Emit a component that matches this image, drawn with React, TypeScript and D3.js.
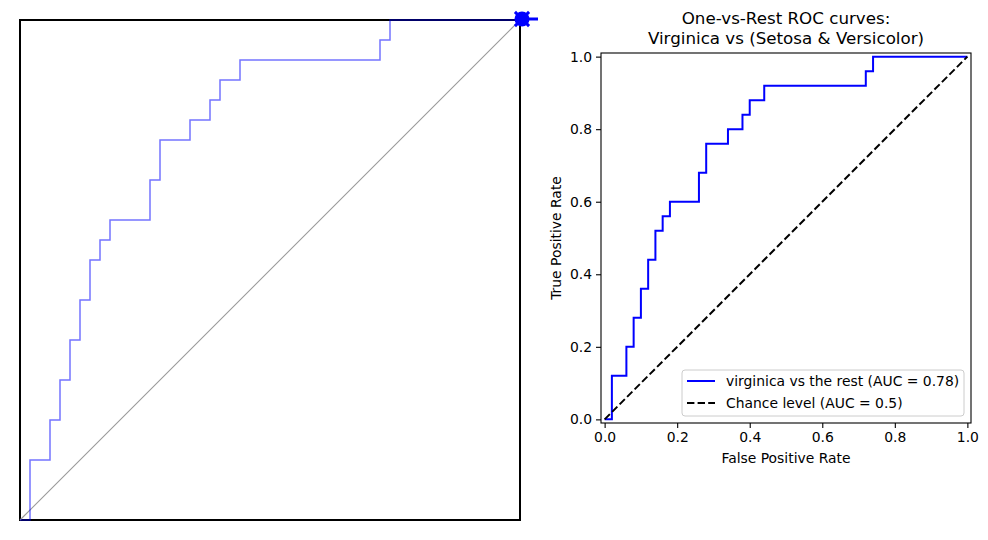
import * as d3 from "d3";
import React, { useEffect, useRef } from "react";

// ROC corner points (step after): false positive rate / true positive rate
const fpr = [0, 0.02, 0.06, 0.08, 0.10, 0.12, 0.14, 0.16, 0.18, 0.26, 0.28, 0.34, 0.38, 0.40, 0.44, 0.72, 0.74, 1.0];
const tpr = [0, 0.12, 0.20, 0.28, 0.36, 0.44, 0.52, 0.56, 0.60, 0.68, 0.76, 0.80, 0.84, 0.88, 0.92, 0.96, 1.0, 1.0];
const chance = [0, 1];
const ticks = [0, 0.2, 0.4, 0.6, 0.8, 1.0];
const titleLines = ["One-vs-Rest ROC curves:", "Virginica vs (Setosa & Versicolor)"];
const legendLabels = ["virginica vs the rest (AUC = 0.78)", "Chance level (AUC = 0.5)"];

const FONT = "DejaVu Sans, sans-serif";

export default function App() {
  const svgRef = useRef<SVGSVGElement | null>(null);

  useEffect(() => {
    const svg = d3.select(svgRef.current);
    svg.selectAll("*").remove();
    const pts = fpr.map((f, i) => [f, tpr[i]] as [number, number]);

    // ---- left panel: bare box, no ticks
    const lx = d3.scaleLinear().domain([0, 1]).range([20, 520]);
    const ly = d3.scaleLinear().domain([0, 1]).range([520, 20]);
    const L = svg.append("g");
    L.append("rect").attr("x", 20).attr("y", 20).attr("width", 500).attr("height", 500)
      .attr("fill", "none").attr("stroke", "#000").attr("stroke-width", 2);
    L.append("line")
      .attr("x1", lx(chance[0])).attr("y1", ly(chance[0]))
      .attr("x2", lx(chance[1])).attr("y2", ly(chance[1]))
      .attr("stroke", "#999").attr("stroke-width", 1.1);
    const lline = d3.line<[number, number]>().x(d => lx(d[0])).y(d => ly(d[1])).curve(d3.curveStepAfter);
    L.append("path").attr("d", lline(pts)!).attr("fill", "none")
      .attr("stroke", "blue").attr("stroke-opacity", 0.55).attr("stroke-width", 1.5);
    // marker at (1,1)
    const mx = lx(1) + 2, my = ly(1) - 1;
    const stubs = [45, 135, 225, 315, 0];
    stubs.forEach(a => {
      const r = (a * Math.PI) / 180;
      const len = a === 0 ? 16 : 10;
      L.append("line").attr("x1", mx).attr("y1", my)
        .attr("x2", mx + Math.cos(r) * len).attr("y2", my - Math.sin(r) * len)
        .attr("stroke", "blue").attr("stroke-width", 3);
    });
    L.append("circle").attr("cx", mx).attr("cy", my).attr("r", 7.5).attr("fill", "blue");

    // ---- right panel
    const x = d3.scaleLinear().domain([-0.01, 1.01]).range([601, 971]);
    const y = d3.scaleLinear().domain([-0.01, 1.01]).range([423, 53]);
    const R = svg.append("g");
    const line = d3.line<[number, number]>().x(d => x(d[0])).y(d => y(d[1])).curve(d3.curveStepAfter);
    R.append("path").attr("d", line(pts)!).attr("fill", "none")
      .attr("stroke", "blue").attr("stroke-width", 2);
    R.append("line")
      .attr("x1", x(chance[0])).attr("y1", y(chance[0]))
      .attr("x2", x(chance[1])).attr("y2", y(chance[1]))
      .attr("stroke", "#000").attr("stroke-width", 2).attr("stroke-dasharray", "7.4,3.2");
    R.append("rect").attr("x", 601).attr("y", 53).attr("width", 370).attr("height", 370)
      .attr("fill", "none").attr("stroke", "#000").attr("stroke-width", 1.1);

    const xAxis = d3.axisBottom(x).tickValues(ticks).tickFormat(d3.format(".1f")).tickSize(5).tickPadding(4);
    const yAxis = d3.axisLeft(y).tickValues(ticks).tickFormat(d3.format(".1f")).tickSize(5).tickPadding(4);
    const gx = R.append("g").attr("transform", "translate(0,423)").call(xAxis);
    const gy = R.append("g").attr("transform", "translate(601,0)").call(yAxis);
    [gx, gy].forEach(g => {
      g.select(".domain").remove();
      g.selectAll(".tick line").attr("stroke", "#000").attr("stroke-width", 1.1);
      g.selectAll(".tick text").attr("fill", "#000").attr("font-size", 13.9).attr("font-family", FONT);
    });

    R.append("text").attr("x", 786).attr("y", 463).attr("text-anchor", "middle")
      .attr("font-family", FONT).attr("font-size", 13.9).text("False Positive Rate");
    R.append("text").attr("transform", "translate(561,238) rotate(-90)").attr("text-anchor", "middle")
      .attr("font-family", FONT).attr("font-size", 13.9).text("True Positive Rate");

    titleLines.forEach((t, i) => {
      R.append("text").attr("x", 786).attr("y", 24 + i * 20).attr("text-anchor", "middle")
        .attr("font-family", FONT).attr("font-size", 16.7).text(t);
    });

    // legend
    const lg = R.append("g");
    lg.append("rect").attr("x", 682).attr("y", 370).attr("width", 282).attr("height", 46)
      .attr("rx", 3).attr("fill", "#fff").attr("fill-opacity", 0.8)
      .attr("stroke", "#cccccc").attr("stroke-width", 1);
    legendLabels.forEach((t, i) => {
      const yy = 381 + i * 22;
      lg.append("line").attr("x1", 687).attr("x2", 715).attr("y1", yy).attr("y2", yy)
        .attr("stroke", i === 0 ? "blue" : "#000").attr("stroke-width", 2)
        .attr("stroke-dasharray", i === 0 ? null : "7.4,3.2");
      lg.append("text").attr("x", 726).attr("y", yy + 5).attr("font-family", FONT)
        .attr("font-size", 13.9).text(t);
    });
  }, []);

  return (
    <div style={{ position: "absolute", left: 0, top: 0, width: 988, height: 540, background: "#fff" }}>
      <svg ref={svgRef} width={988} height={540} style={{ display: "block" }} />
    </div>
  );
}
